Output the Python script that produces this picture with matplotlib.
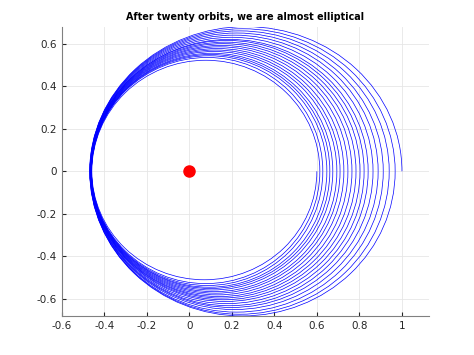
import matplotlib
matplotlib.use('Agg')
import matplotlib.pyplot as plt
from matplotlib.patches import Arc

# x of each aphelion crossing (start at x=1, then one per orbit)
apo_x = [1.00, 0.968, 0.940, 0.912, 0.888, 0.864, 0.841, 0.822, 0.803, 0.784,
         0.765, 0.746, 0.727, 0.709, 0.694, 0.675, 0.661, 0.647, 0.628, 0.614, 0.600]
# x of each perihelion crossing
peri_x = [-0.468, -0.467, -0.467, -0.466, -0.466, -0.465, -0.465, -0.464, -0.464, -0.463,
          -0.463, -0.462, -0.462, -0.461, -0.461, -0.460, -0.460, -0.459, -0.459, -0.458]
# highest y of each upper half and lowest y of each lower half
top_y = [0.680, 0.670, 0.660, 0.650, 0.640, 0.630, 0.620, 0.615, 0.607, 0.600,
         0.592, 0.585, 0.577, 0.570, 0.563, 0.555, 0.549, 0.543, 0.535, 0.522]
bottom_y = [-0.680, -0.672, -0.662, -0.650, -0.640, -0.632, -0.622, -0.612, -0.604, -0.596,
            -0.589, -0.581, -0.573, -0.566, -0.558, -0.551, -0.545, -0.537, -0.528, -0.510]

xticks = [-0.6, -0.4, -0.2, 0, 0.2, 0.4, 0.6, 0.8, 1]
xlabels = ['-0.6', '-0.4', '-0.2', '0', '0.2', '0.4', '0.6', '0.8', '1']
yticks = [-0.6, -0.4, -0.2, 0, 0.2, 0.4, 0.6]
ylabels = ['-0.6', '-0.4', '-0.2', '0', '0.2', '0.4', '0.6']

fig = plt.figure(figsize=(4.74, 3.55), dpi=100)
ax = fig.add_axes([0.13, 0.11, 0.775, 0.815])

for i in range(len(peri_x)):
    # upper half: from aphelion i over the top to perihelion
    cx = (apo_x[i] + peri_x[i]) / 2
    ax.add_patch(Arc((cx, 0), apo_x[i] - peri_x[i], 2 * top_y[i],
                     theta1=0, theta2=180, color='#0000ff', lw=0.5))
    # lower half: from perihelion back to aphelion i+1
    cx = (apo_x[i + 1] + peri_x[i]) / 2
    ax.add_patch(Arc((cx, 0), apo_x[i + 1] - peri_x[i], -2 * bottom_y[i],
                     theta1=180, theta2=360, color='#0000ff', lw=0.5))

ax.plot([0], [0], 'o', color='red', markersize=8)

ax.set_xlim(-0.6, 1.127)
ax.set_ylim(-0.68, 0.68)
ax.set_xticks(xticks)
ax.set_xticklabels(xlabels)
ax.set_yticks(yticks)
ax.set_yticklabels(ylabels)
ax.tick_params(direction='in', length=3, labelsize=7.5, colors='#262626')
ax.grid(True, color='#e6e6e6', lw=0.6)
ax.set_axisbelow(True)
for s in ['top', 'right']:
    ax.spines[s].set_visible(False)
for s in ['left', 'bottom']:
    ax.spines[s].set_color('#808080')
ax.set_title('After twenty orbits, we are almost elliptical', fontsize=6.9,
             fontweight='bold', pad=4.5)

fig.savefig('out.png', dpi=100)
